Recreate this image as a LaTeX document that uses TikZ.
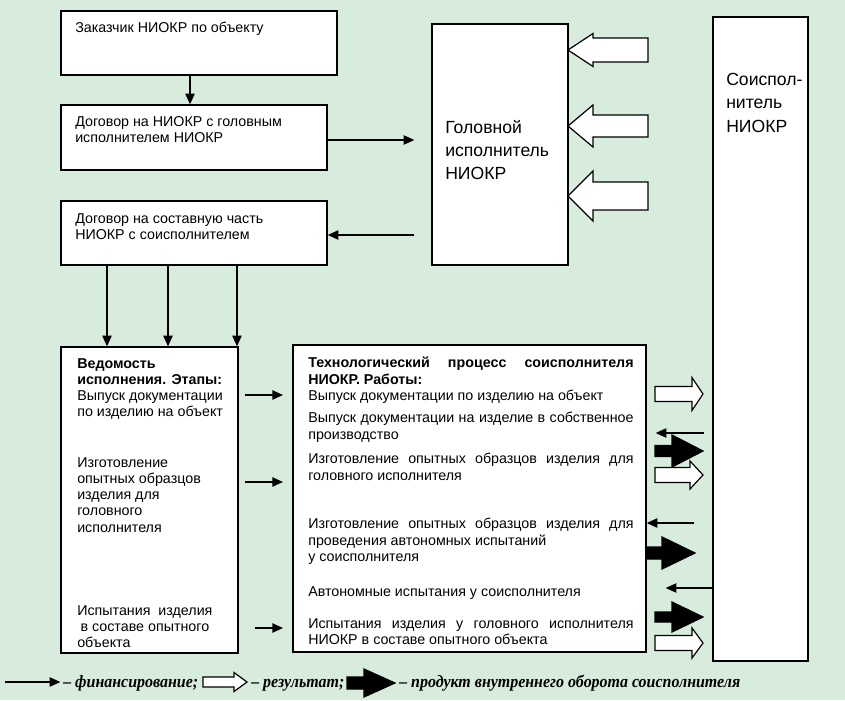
\documentclass[tikz,border=0pt]{standalone}
\usepackage{fontspec}
\setmainfont{Liberation Sans}
\newfontfamily\legendfont[FakeStretch=0.92]{Liberation Serif}
\usetikzlibrary{arrows.meta,fit}
\definecolor{bggreen}{RGB}{216,236,222}
\newcommand{\mainsize}{\fontsize{10.7}{12.2}\selectfont}
\newcommand{\bigsize}{\fontsize{13.2}{17.5}\selectfont}
% block arrow: [style]{tail x}{tip x}{y}{half body}{half head}{head base x}
\newcommand{\blockarrow}[7][]{%
  \draw[#1] (#2,#4-#5) -- (#7,#4-#5) -- (#7,#4-#6) -- (#3,#4) -- (#7,#4+#6) -- (#7,#4+#5) -- (#2,#4+#5) -- cycle;}
\hyphenpenalty=10000
\exhyphenpenalty=10000

\begin{document}
\begin{tikzpicture}[x=0.75pt,y=0.75pt,yscale=-1,xscale=1,
  box/.style={draw, line width=1pt, fill=white, inner sep=0pt},
  txt/.style={anchor=north west, inner sep=0pt, align=left, font=\mainsize},
  bigtxt/.style={anchor=north west, inner sep=0pt, align=left, font=\bigsize},
  justpar/.style={anchor=north west, inner sep=0pt, text width=244pt, align=justify, font=\mainsize},
  legtxt/.style={anchor=base west, inner sep=0pt, font={\legendfont\fontsize{13}{15}\selectfont\bfseries\itshape}},
  fin/.style={line width=1pt, -{Triangle[length=8pt,width=7pt]}},
  res/.style={draw, fill=white, line width=0.9pt},
  prod/.style={draw, fill=black, line width=0.9pt}]
 \fill[bggreen] (0,0) rectangle (845,700);
 \useasboundingbox (0,0) rectangle (845,700);

 % boxes
 \node[box, fit={(61,11) (337,75)}] (zak) {};
 \node[box, fit={(61,105) (327,170)}] (dogh) {};
 \node[box, fit={(61,201) (327,265)}] (dogs) {};
 \node[box, fit={(432,24) (568,265)}] (head) {};
 \node[box, fit={(713,17) (808,661)}] (sois) {};
 \node[box, fit={(61,347) (238,653)}] (ved) {};
 \node[box, fit={(293,345) (646,652)}] (tech) {};

 % texts
 \node[txt] (zaktxt) at (75,22) {Заказчик НИОКР по объекту};
 \node[txt] (doghtxt) at (75,116) {Договор на НИОКР с головным\\исполнителем НИОКР};
 \node[txt] (dogstxt) at (75,213) {Договор на составную часть\\НИОКР с соисполнителем};
 \node[bigtxt] (headtxt) at (445,120) {Головной\\исполнитель\\НИОКР};
 \node[bigtxt] (soistxt) at (726,73) {Соиспол-\\нитель\\НИОКР};

 \node[txt] (ved1) at (77,358) {\textbf{Ведомость}\\\textbf{исполнения. Этапы:}\\Выпуск документации\\по изделию на объект};
 \node[txt] (ved2) at (77,457) {Изготовление\\опытных образцов\\изделия для\\головного\\исполнителя};
 \node[txt] (ved3) at (77,605) {Испытания\ \ изделия\\\hspace*{2.5pt}в составе опытного\\объекта};

 \node[justpar] (tech0) at (308,357) {\textbf{Технологический процесс соисполнителя\linebreak НИОКР. Работы:}\\Выпуск документации по изделию на объект};
 \node[justpar] (tech1) at (308,412) {Выпуск документации на изделие в собственное\linebreak производство};
 \node[justpar] (tech2) at (308,453) {Изготовление опытных образцов изделия для\linebreak головного исполнителя};
 \node[justpar] (tech3) at (308,518) {Изготовление опытных образцов изделия для\linebreak проведения автономных испытаний\\у соисполнителя};
 \node[justpar] (tech4) at (308,586) {Автономные испытания у соисполнителя};
 \node[justpar] (tech5) at (308,618) {Испытания изделия у головного исполнителя\linebreak НИОКР в составе опытного объекта};

 % financing arrows
 \foreach \y in {140,235,395,433,482,523,588,628} \coordinate (y\y) at (0,\y);
 \coordinate (x190) at (190,0);
 \draw[fin] (zak.south -| x190) -- (dogh.north -| x190);
 \draw[fin, shorten >=12.75pt] (dogh.east |- y140) -- (head.west |- y140);
 \draw[fin, shorten <=12.75pt] (head.west |- y235) -- (dogs.east |- y235);
 \foreach \x in {107,168,237} {
   \coordinate (x\x) at (\x,0);
   \draw[fin] (dogs.south -| x\x) -- (ved.north -| x\x);
 }
 \foreach \y/\s in {395/4.5pt,482/4.5pt,628/12pt}
   \draw[fin, shorten <=\s, shorten >=7pt] (ved.east |- y\y) -- (tech.west |- y\y);

 % results to head executor
 \blockarrow[res]{648}{568}{50}{12}{16.5}{593}
 \blockarrow[res]{648}{568}{126}{11}{21}{593}
 \blockarrow[res]{648}{568}{196}{14}{25}{593}

 % between process and co-executor
 \blockarrow[res]{655}{703}{394}{7.5}{16.5}{692}
 \draw[fin, shorten <=6pt, shorten >=6.75pt] (sois.west |- y433) -- (tech.east |- y433);
 \blockarrow[res]{655}{703}{475}{7.5}{14}{690}
 \blockarrow[prod]{655}{703}{451}{5.5}{16}{672}
 \draw[fin, shorten <=13.5pt] (sois.west |- y523) -- (tech.east |- y523);
 \blockarrow[prod]{647}{695}{553}{6}{16}{662}
 \draw[fin, shorten >=14.25pt] (sois.west |- y588) -- (tech.east |- y588);
 \blockarrow[prod]{655}{703}{617}{5}{15}{672}
 \blockarrow[res]{655}{703}{643}{7.5}{15}{692}

 % legend
 \coordinate (lg0) at (5,682);
 \node[legtxt] (lt1) at (63,687) {– финансирование;};
 \draw[fin, shorten >=2pt] (lg0) -- (lt1.west |- lg0);
 \blockarrow[res]{203}{247}{682}{5}{9.5}{234}
 \node[legtxt] (lt2) at (251,687) {– результат;};
 \blockarrow[prod]{347}{395}{683}{6}{14}{364}
 \node[legtxt] (lt3) at (399,687) {– продукт внутреннего оборота соисполнителя};
\end{tikzpicture}
\end{document}
